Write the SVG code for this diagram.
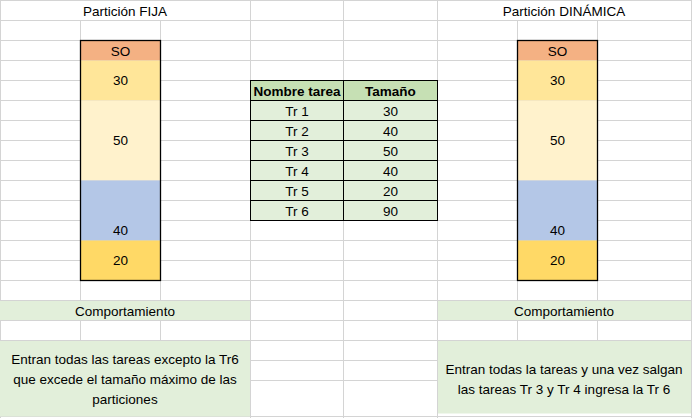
<svg xmlns="http://www.w3.org/2000/svg" width="692" height="418" viewBox="0 0 692 418">
<style>
.g{stroke:#d4d4d4;stroke-width:1;fill:none}
.t{font-family:"Liberation Sans",Arial,sans-serif;font-size:13.5px;fill:#000;text-anchor:middle}
.b{font-weight:bold}
.bx{fill:none;stroke:#000;stroke-width:1.3}
.tc{stroke:#000;stroke-width:1}
</style>
<rect width="692" height="418" fill="#fff"/>
<g id="grid">
<path class="g" d="M0 0.5H692M0 20.5H692M0 40.5H692M0 60.5H692M0 80.5H692M0 100.5H692M0 120.5H692M0 140.5H692M0 160.5H692M0 180.5H692M0 200.5H692M0 220.5H692M0 240.5H692M0 260.5H692M0 280.5H692M0 300.5H692M0 320.5H692M0 340.5H692M0 360.5H692M0 380.5H692M0 416.5H692"/>
<path class="g" d="M0.5 0V418M250.5 0V418M343.5 0V418M437.5 0V418M691.5 0V418M80.5 20V340M160.5 20V340M517.5 20V340M597.5 20V340"/>
</g>
<g id="titles">
<rect x="1" y="1" width="249" height="19" fill="#fff"/>
<rect x="438" y="1" width="253" height="19" fill="#fff"/>
<text class="t" x="125" y="15.5">Partición FIJA</text>
<text class="t" x="564" y="15.5">Partición DINÁMICA</text>
</g>
<g id="fija">
<rect x="80.5" y="40.5" width="80" height="20" fill="#f4b183"/>
<rect x="80.5" y="60.5" width="80" height="40" fill="#ffe699"/>
<rect x="80.5" y="100.5" width="80" height="80" fill="#fff2cc"/>
<rect x="80.5" y="180.5" width="80" height="60" fill="#b4c7e7"/>
<rect x="80.5" y="240.5" width="80" height="40" fill="#ffd966"/>
<rect class="bx" x="80.5" y="40.5" width="80" height="240"/>
<text class="t" x="120.5" y="56">SO</text>
<text class="t" x="120.5" y="85">30</text>
<text class="t" x="120.5" y="145">50</text>
<text class="t" x="120.5" y="235">40</text>
<text class="t" x="120.5" y="265">20</text>
</g>
<g id="dinamica">
<rect x="517.5" y="40.5" width="80" height="20" fill="#f4b183"/>
<rect x="517.5" y="60.5" width="80" height="40" fill="#ffe699"/>
<rect x="517.5" y="100.5" width="80" height="80" fill="#fff2cc"/>
<rect x="517.5" y="180.5" width="80" height="60" fill="#b4c7e7"/>
<rect x="517.5" y="240.5" width="80" height="40" fill="#ffd966"/>
<rect class="bx" x="517.5" y="40.5" width="80" height="240"/>
<text class="t" x="557.5" y="56">SO</text>
<text class="t" x="557.5" y="85">30</text>
<text class="t" x="557.5" y="145">50</text>
<text class="t" x="557.5" y="235">40</text>
<text class="t" x="557.5" y="265">20</text>
</g>
<g id="tabla">
<rect x="250.5" y="80.5" width="187" height="20" fill="#c6e0b4"/>
<rect x="250.5" y="100.5" width="187" height="120" fill="#e2efda"/>
<path class="tc" d="M250.5 80.5H437.5M250.5 100.5H437.5M250.5 120.5H437.5M250.5 140.5H437.5M250.5 160.5H437.5M250.5 180.5H437.5M250.5 200.5H437.5M250.5 220.5H437.5M250.5 80V221M343.5 80V221M437.5 80V221"/>
<text class="t b" x="297" y="96">Nombre tarea</text>
<text class="t b" x="390.5" y="96">Tamaño</text>
<text class="t" x="297" y="116">Tr 1</text><text class="t" x="390.5" y="116">30</text>
<text class="t" x="297" y="136">Tr 2</text><text class="t" x="390.5" y="136">40</text>
<text class="t" x="297" y="156">Tr 3</text><text class="t" x="390.5" y="156">50</text>
<text class="t" x="297" y="176">Tr 4</text><text class="t" x="390.5" y="176">40</text>
<text class="t" x="297" y="196">Tr 5</text><text class="t" x="390.5" y="196">20</text>
<text class="t" x="297" y="216">Tr 6</text><text class="t" x="390.5" y="216">90</text>
</g>
<g id="comp-fija">
<rect x="0" y="301" width="250" height="19" fill="#e2efda"/>
<rect x="0" y="341" width="250" height="75.5" fill="#e2efda"/>
<text class="t" x="125" y="316">Comportamiento</text>
<text class="t" x="125" y="363.5">Entran todas las tareas excepto la Tr6</text>
<text class="t" x="125" y="384">que excede el tamaño máximo de las</text>
<text class="t" x="125" y="404">particiones</text>
</g>
<g id="comp-dinamica">
<rect x="438" y="301" width="253" height="19" fill="#e2efda"/>
<rect x="438" y="341" width="253" height="72.5" fill="#e2efda"/>
<text class="t" x="564" y="316">Comportamiento</text>
<text class="t" x="564" y="374">Entran todas la tareas y una vez salgan</text>
<text class="t" x="564" y="394">las tareas Tr 3 y Tr 4 ingresa la Tr 6</text>
</g>
</svg>
